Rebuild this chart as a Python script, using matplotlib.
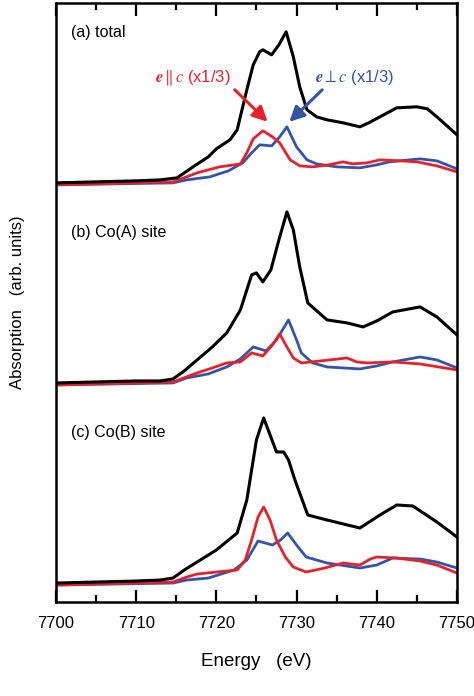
import numpy as np
import matplotlib
matplotlib.use('Agg')
import matplotlib.pyplot as plt
from matplotlib.ticker import MultipleLocator

# ---- data (arb. units, each panel starts at 0) ----
panel_labels = ['(a) total', '(b) Co(A) site', '(c) Co(B) site']

# (a) total
a_black_e = [7700, 7710, 7713, 7715.1, 7717.1, 7719.0, 7720.0, 7721.7, 7722.6, 7723.2, 7723.8, 7724.6, 7725.4, 7725.8,
             7726.9, 7727.8, 7728.7, 7729.6, 7730.4, 7731.3, 7732.5, 7733.8, 7735.8, 7737.9, 7739.0, 7740.4, 7742.5,
             7745.0, 7746.3, 7747.5, 7750]
a_black_i = [0.02, 0.04, 0.05, 0.07, 0.18, 0.28, 0.36, 0.45, 0.55, 0.75, 0.95, 1.20, 1.33, 1.35,
             1.30, 1.40, 1.53, 1.28, 0.98, 0.75, 0.68, 0.65, 0.62, 0.58, 0.62, 0.68, 0.77,
             0.78, 0.76, 0.68, 0.50]
a_red_e = [7700, 7714.6, 7716.3, 7717.6, 7720.4, 7722.2, 7723.0, 7723.8, 7724.6, 7725.8, 7727.0, 7727.9, 7729.2,
           7730.4, 7732.0, 7734.0, 7735.8, 7737.0, 7738.8, 7740.4, 7743.0, 7745.0, 7747.5, 7750]
a_red_i = [0.0, 0.03, 0.08, 0.12, 0.18, 0.20, 0.21, 0.32, 0.46, 0.54, 0.48, 0.42, 0.25,
           0.19, 0.18, 0.20, 0.23, 0.21, 0.22, 0.25, 0.24, 0.23, 0.19, 0.13]
a_blue_e = [7700, 7714.6, 7716.3, 7719.2, 7721.5, 7723.3, 7724.4, 7725.4, 7726.9, 7727.8, 7728.8, 7730.0, 7731.3,
            7732.5, 7735.0, 7737.9, 7740.0, 7741.6, 7745.4, 7747.5, 7750]
a_blue_i = [0.0, 0.02, 0.05, 0.08, 0.14, 0.22, 0.32, 0.40, 0.39, 0.47, 0.58, 0.38, 0.25,
            0.21, 0.18, 0.17, 0.20, 0.23, 0.26, 0.24, 0.16]

# (b) Co(A) site
b_black_e = [7700, 7710, 7713, 7714.6, 7716.0, 7717.6, 7719.5, 7721.3, 7723.0, 7724.4, 7725.0, 7725.8, 7726.8,
             7727.8, 7728.8, 7729.6, 7730.4, 7731.4, 7733.8, 7736.3, 7738.3, 7740.0, 7742.0, 7745.4, 7747.5, 7750]
b_black_i = [0.02, 0.04, 0.04, 0.06, 0.14, 0.25, 0.38, 0.52, 0.75, 1.10, 1.12, 1.03, 1.15,
             1.45, 1.73, 1.55, 1.18, 0.82, 0.65, 0.62, 0.58, 0.64, 0.73, 0.78, 0.68, 0.50]
b_red_e = [7700, 7714.6, 7717.6, 7719.5, 7721.3, 7723.0, 7724.4, 7725.8, 7727.0, 7727.9, 7728.8, 7729.6, 7730.6,
           7733.0, 7736.3, 7737.5, 7738.8, 7742.0, 7745.4, 7750]
b_red_i = [0.0, 0.03, 0.12, 0.17, 0.22, 0.23, 0.32, 0.29, 0.40, 0.51, 0.38, 0.27, 0.22,
           0.24, 0.27, 0.23, 0.22, 0.23, 0.21, 0.15]
b_blue_e = [7700, 7714.6, 7716.3, 7719.0, 7721.3, 7723.0, 7724.6, 7726.2, 7727.5, 7729.0, 7730.0, 7730.6,
            7732.0, 7733.8, 7737.9, 7740.0, 7742.0, 7745.4, 7747.5, 7750]
b_blue_i = [0.0, 0.02, 0.07, 0.11, 0.18, 0.26, 0.38, 0.34, 0.45, 0.65, 0.45, 0.32,
            0.22, 0.18, 0.16, 0.19, 0.23, 0.28, 0.25, 0.17]

# (c) Co(B) site
c_black_e = [7700, 7710, 7713, 7714.6, 7716.0, 7717.6, 7720.0, 7722.6, 7723.8, 7725.0, 7725.9, 7726.7, 7727.5,
             7728.4, 7729.0, 7729.8, 7731.4, 7733.8, 7737.9, 7740.4, 7742.5, 7744.5, 7747.5, 7750]
c_black_i = [0.02, 0.04, 0.05, 0.07, 0.15, 0.23, 0.35, 0.52, 0.85, 1.45, 1.67, 1.50, 1.33,
             1.33, 1.25, 1.05, 0.70, 0.65, 0.57, 0.70, 0.80, 0.79, 0.63, 0.48]
c_red_e = [7700, 7714.6, 7716.3, 7717.6, 7720.0, 7722.6, 7723.6, 7724.4, 7725.2, 7725.9, 7726.7, 7727.5, 7728.6,
           7729.6, 7731.2, 7733.5, 7735.8, 7737.9, 7739.2, 7740.0, 7742.5, 7745.4, 7747.5, 7750]
c_red_i = [0.0, 0.03, 0.08, 0.11, 0.13, 0.15, 0.25, 0.45, 0.68, 0.78, 0.65, 0.45, 0.28,
           0.18, 0.13, 0.17, 0.22, 0.20, 0.26, 0.28, 0.27, 0.24, 0.20, 0.12]
c_blue_e = [7700, 7714.6, 7716.3, 7719.0, 7722.2, 7723.8, 7725.2, 7727.0, 7728.0, 7728.9, 7730.0, 7731.2,
            7733.8, 7737.9, 7740.0, 7742.0, 7745.4, 7747.5, 7750]
c_blue_i = [0.0, 0.02, 0.05, 0.07, 0.15, 0.25, 0.44, 0.40, 0.45, 0.52, 0.40, 0.28,
            0.22, 0.17, 0.20, 0.27, 0.26, 0.23, 0.17]

panels = [
    (a_black_e, a_black_i, a_red_e, a_red_i, a_blue_e, a_blue_i),
    (b_black_e, b_black_i, b_red_e, b_red_i, b_blue_e, b_blue_i),
    (c_black_e, c_black_i, c_red_e, c_red_i, c_blue_e, c_blue_i),
]

RED = '#e5222b'
BLUE = '#3455a6'

plt.rcParams['font.family'] = ['Liberation Sans', 'DejaVu Sans']
plt.rcParams['mathtext.fontset'] = 'stix'

fig = plt.figure(figsize=(4.74, 6.96), dpi=100)
ax = fig.add_axes([0.118, 0.135, 0.846, 0.861])

offsets = [4.17, 2.17, 0.17]
for (be, bi, re, ri, ue, ui), off, label in zip(panels, offsets, panel_labels):
    ax.plot(ue, np.array(ui) + off, color=BLUE, lw=2.0, solid_joinstyle='round')
    ax.plot(re, np.array(ri) + off, color=RED, lw=2.0, solid_joinstyle='round')
    ax.plot(be, np.array(bi) + off, color='black', lw=2.2, solid_joinstyle='round')
    ax.text(7701.9, off + 1.52, label, fontsize=11.5, ha='left', va='center')

# polarisation labels and arrows in panel (a)
ax.text(7717.1, 5.24, r'$\mathbfit{e}\,\Vert\,\mathit{c}$ (x1/3)', color=RED, fontsize=12,
        ha='center', va='center')
ax.text(7737.2, 5.24, r'$\mathbfit{e}\perp\mathit{c}$ (x1/3)', color=BLUE, fontsize=12,
        ha='center', va='center')
ax.annotate('', xy=(7726.4, 4.80), xytext=(7722.3, 5.12),
            arrowprops=dict(arrowstyle='-|>,head_length=0.9,head_width=0.45', color=RED, lw=2.2,
                            shrinkA=0, shrinkB=0))
ax.annotate('', xy=(7729.1, 4.80), xytext=(7733.2, 5.12),
            arrowprops=dict(arrowstyle='-|>,head_length=0.9,head_width=0.45', color=BLUE, lw=2.2,
                            shrinkA=0, shrinkB=0))

ax.set_xlim(7700, 7750)
ax.set_ylim(0, 5.99)
ax.xaxis.set_major_locator(MultipleLocator(10))
ax.xaxis.set_minor_locator(MultipleLocator(5))
ax.tick_params(axis='x', which='both', direction='in', top=True, width=1.6, labelsize=12, pad=10)
ax.tick_params(axis='x', which='major', length=9)
ax.tick_params(axis='x', which='minor', length=5)
ax.set_yticks([])
for s in ax.spines.values():
    s.set_linewidth(1.8)

ax.set_xlabel('Energy   (eV)', fontsize=13.5, labelpad=16)
ax.set_ylabel('Absorption   (arb. units)', fontsize=12, labelpad=22)

fig.savefig('out.png', dpi=100)
